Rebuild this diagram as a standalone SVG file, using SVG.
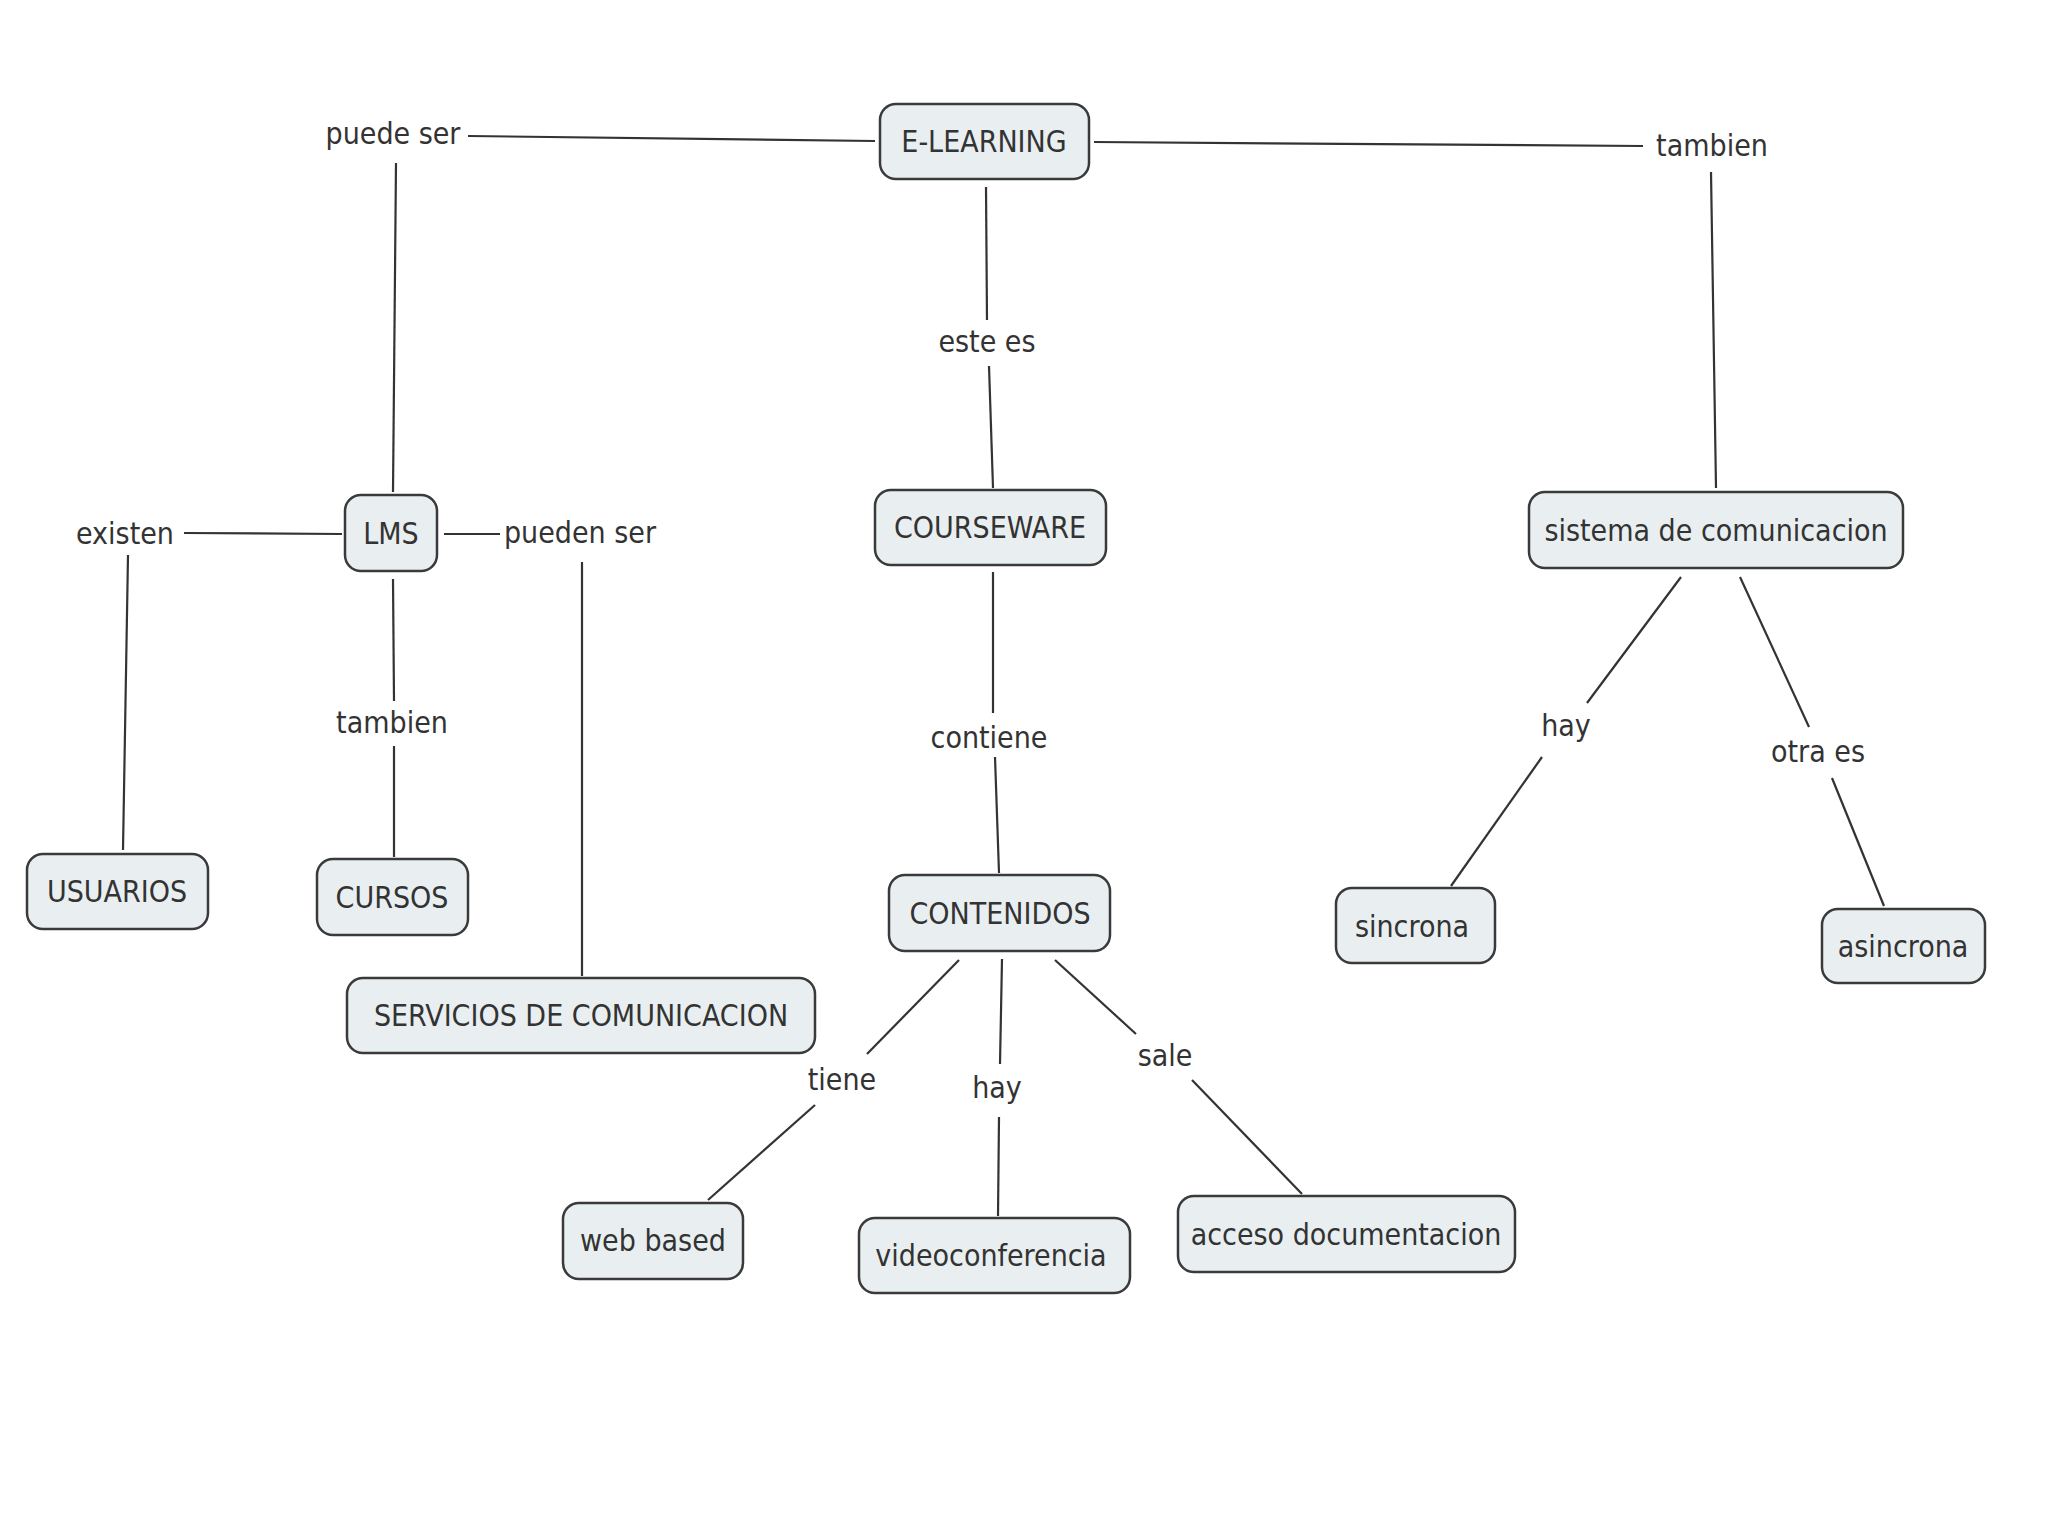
<svg xmlns="http://www.w3.org/2000/svg" width="2048" height="1536" viewBox="0 0 2048 1536">
<style>
.n rect{fill:#e9eff1;stroke:#3a3a3a;stroke-width:2.5}
text{font-family:"DejaVu Sans Condensed","DejaVu Sans",sans-serif;font-size:30px;fill:#333;text-anchor:middle;dominant-baseline:central}
.c line{stroke:#333;stroke-width:2.2}
</style>
<rect width="2048" height="1536" fill="#fff"/>
<g class="c">
<line x1="468" y1="136" x2="875" y2="141"/><line x1="396" y1="163" x2="393" y2="492"/>
<line x1="1094" y1="142" x2="1643" y2="146"/><line x1="1711" y1="172" x2="1716" y2="488"/>
<line x1="986" y1="187" x2="987" y2="320"/><line x1="989" y1="366" x2="993" y2="488"/>
<line x1="184" y1="533" x2="342" y2="534"/><line x1="128" y1="555" x2="123" y2="850"/>
<line x1="444" y1="534" x2="500" y2="534"/><line x1="582" y1="562" x2="582" y2="976"/>
<line x1="393" y1="579" x2="394" y2="701"/><line x1="394" y1="746" x2="394" y2="857"/>
<line x1="993" y1="572" x2="993" y2="713"/><line x1="995" y1="757" x2="999" y2="873"/>
<line x1="1681" y1="577" x2="1587" y2="703"/><line x1="1542" y1="757" x2="1451" y2="886"/>
<line x1="1740" y1="577" x2="1809" y2="727"/><line x1="1832" y1="778" x2="1884" y2="906"/>
<line x1="959" y1="960" x2="867" y2="1054"/><line x1="815" y1="1105" x2="708" y2="1200"/>
<line x1="1002" y1="959" x2="1000" y2="1064"/><line x1="999" y1="1117" x2="998" y2="1216"/>
<line x1="1055" y1="960" x2="1136" y2="1034"/><line x1="1192" y1="1080" x2="1302" y2="1194"/>
</g>
<g id="labels">
<text x="393" y="133">puede ser</text>
<text x="1712" y="145">tambien</text>
<text x="987" y="341">este es</text>
<text x="125" y="533">existen</text>
<text x="580" y="532">pueden ser</text>
<text x="392" y="722">tambien</text>
<text x="989" y="737">contiene</text>
<text x="1566" y="725">hay</text>
<text x="1818" y="751">otra es</text>
<text x="842" y="1079">tiene</text>
<text x="997" y="1087">hay</text>
<text x="1165" y="1055">sale</text>
</g>
<g id="elearning" class="n"><rect x="880" y="104" width="209" height="75" rx="16"/><text x="984" y="141">E-LEARNING</text></g>
<g id="courseware" class="n"><rect x="875" y="490" width="231" height="75" rx="16"/><text x="990" y="527">COURSEWARE</text></g>
<g id="contenidos" class="n"><rect x="889" y="875" width="221" height="76" rx="16"/><text x="1000" y="913">CONTENIDOS</text></g>
<g id="lms" class="n"><rect x="345" y="495" width="92" height="76" rx="16"/><text x="391" y="533">LMS</text></g>
<g id="usuarios" class="n"><rect x="27" y="854" width="181" height="75" rx="16"/><text x="117" y="891">USUARIOS</text></g>
<g id="cursos" class="n"><rect x="317" y="859" width="151" height="76" rx="16"/><text x="392" y="897">CURSOS</text></g>
<g id="servicios" class="n"><rect x="347" y="978" width="468" height="75" rx="16"/><text x="581" y="1015">SERVICIOS DE COMUNICACION</text></g>
<g id="sistema" class="n"><rect x="1529" y="492" width="374" height="76" rx="16"/><text x="1716" y="530">sistema de comunicacion</text></g>
<g id="sincrona" class="n"><rect x="1336" y="888" width="159" height="75" rx="16"/><text x="1412" y="926">sincrona</text></g>
<g id="asincrona" class="n"><rect x="1822" y="909" width="163" height="74" rx="16"/><text x="1903" y="946">asincrona</text></g>
<g id="webbased" class="n"><rect x="563" y="1203" width="180" height="76" rx="16"/><text x="653" y="1240">web based</text></g>
<g id="video" class="n"><rect x="859" y="1218" width="271" height="75" rx="16"/><text x="991" y="1255">videoconferencia</text></g>
<g id="acceso" class="n"><rect x="1178" y="1196" width="337" height="76" rx="16"/><text x="1346" y="1234">acceso documentacion</text></g>
</svg>
